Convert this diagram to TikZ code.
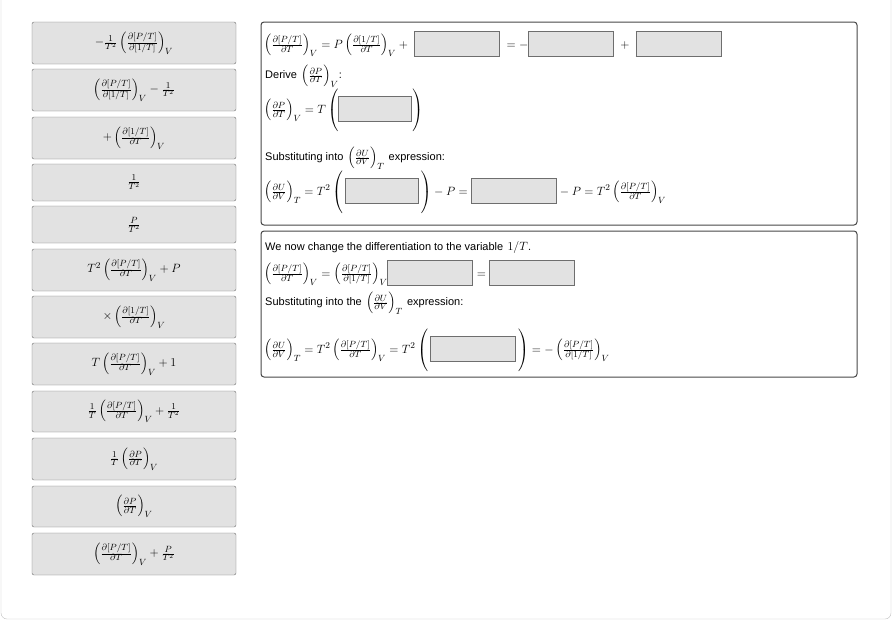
\documentclass[tikz,border=0pt]{standalone}
\usepackage{amsmath}
\usepackage{fontspec}
\newfontfamily\uifont{Liberation Sans}
\definecolor{cardfill}{RGB}{226,226,226}
\definecolor{cardline}{RGB}{110,110,110}
\definecolor{panelline}{RGB}{70,70,70}
\newcommand\gap[1]{\raisebox{-8pt}{\setlength\fboxsep{0pt}\setlength\fboxrule{1pt}\fcolorbox{cardline}{cardfill}{\rule{0pt}{24pt}\hspace{#1}}}}
\newcommand\pd[2]{\left(\frac{\partial #1}{\partial #2}\rule[-6pt]{0pt}{19pt}\right)}
\newcommand\tall{\rule[-15pt]{0pt}{40pt}}
\tikzset{
  card/.style={draw=cardline, fill=cardfill, rounded corners=2pt, minimum width=204pt, inner sep=0pt, font=\fontsize{13}{15}\selectfont},
  panel/.style={draw=panelline, line width=1pt, rounded corners=3pt},
  line/.style={anchor=west, inner sep=0pt, font=\fontsize{13}{15}\selectfont},
  ui/.style={font=\uifont\fontsize{11}{13}\selectfont},
}
\begin{document}
\begin{tikzpicture}[x=1pt, y=-1pt]
\useasboundingbox (0,0) rectangle (893,621);
\draw[gray!50, rounded corners=6pt] (1,-10) rectangle (891,619);
% cards on the left
\foreach \name/\top/\bot/\txt in {
  c1/22/64/{$-\frac{1}{T^2}\pd{[P/T]}{[1/T]}_V$},
  c2/69/111/{$\pd{[P/T]}{[1/T]}_V-\frac{1}{T^2}$},
  c3/117/159/{$+\pd{[1/T]}{T}_V$},
  c4/164/201/{$\frac{1}{T^2}$},
  c5/206/243/{$\frac{P}{T^2}$},
  c6/249/291/{$T^2\pd{[P/T]}{T}_V+P$},
  c7/296/338/{$\times\pd{[1/T]}{T}_V$},
  c8/343/385/{$T\pd{[P/T]}{T}_V+1$},
  c9/391/432/{$\frac{1}{T}\pd{[P/T]}{T}_V+\frac{1}{T^2}$},
  c10/438/480/{$\frac{1}{T}\pd{P}{T}_V$},
  c11/486/527/{$\pd{P}{T}_V$},
  c12/533/575/{$\pd{[P/T]}{T}_V+\frac{P}{T^2}$}}
  \node[card, minimum height={\bot-\top}] (\name) at (134,{(\top+\bot)/2}) {\txt};
% first panel
\draw[panel] (261,22) rectangle (857,225);
\node[line] (a1) at (264,44) {$\pd{[P/T]}{T}_V=P\pd{[1/T]}{T}_V+\;\gap{84pt}\;={-}\gap{84pt}\;+\;\gap{84pt}$};
\node[line] (a2) at (265,76) {{\uifont\fontsize{11}{13}\selectfont Derive} $\pd{P}{T}_V$:};
\node[line] (a3) at (264,110) {$\pd{P}{T}_V=T\left(\gap{72pt}\tall\right)$};
\node[line] (a4) at (265,158) {{\uifont\fontsize{11}{13}\selectfont Substituting into} $\pd{U}{V}_T$ {\uifont\fontsize{11}{13}\selectfont expression:}};
\node[line] (a5) at (264,192) {$\pd{U}{V}_T=T^2\left(\,\gap{72pt}\,\tall\right)-P=\gap{84pt}-P=T^2\pd{[P/T]}{T}_V$};
% second panel
\draw[panel] (261,231) rectangle (857,377);
\node[line] (b1) at (265,247) {{\uifont\fontsize{11}{13}\selectfont We now change the differentiation to the variable} $1/T$.};
\node[line] (b2) at (264,273) {$\pd{[P/T]}{T}_V=\pd{[P/T]}{[1/T]}_V\!\gap{84pt}=\gap{84pt}$};
\node[line] (b3) at (265,303) {{\uifont\fontsize{11}{13}\selectfont Substituting into the} $\pd{U}{V}_T$ {\uifont\fontsize{11}{13}\selectfont expression:}};
\node[line] (b4) at (264,350) {$\pd{U}{V}_T=T^2\pd{[P/T]}{T}_V=T^2\left(\,\gap{84pt}\,\tall\right)=-\pd{[P/T]}{[1/T]}_V$};
\end{tikzpicture}
\end{document}
